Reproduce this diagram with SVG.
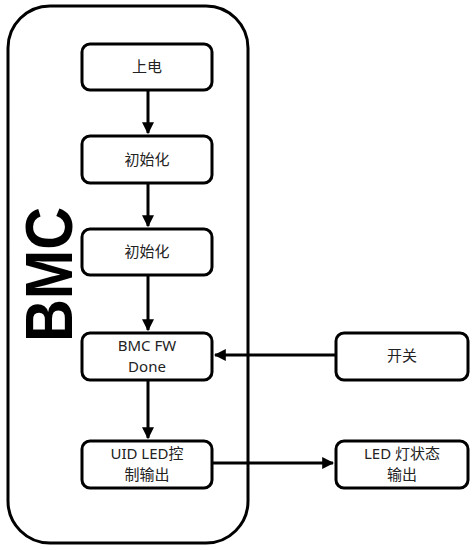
<svg xmlns="http://www.w3.org/2000/svg" width="474" height="550" viewBox="0 0 474 550">
<style>
.box{fill:#fff;stroke:#000;stroke-width:3}
.t{font-family:"Noto Sans","Noto Sans CJK SC",sans-serif;font-size:15px;fill:#222;text-anchor:middle}
.c{stroke:#000;stroke-width:3;fill:none}
</style>
<defs>
<marker id="ah" viewBox="0 0 10 10" refX="9" refY="5" markerWidth="4" markerHeight="4" orient="auto" markerUnits="strokeWidth">
<path d="M0,0 L10,5 L0,10 Z" fill="#000"/>
</marker>
</defs>
<rect width="474" height="550" fill="#fff"/>
<g id="bmc">
<rect x="8" y="6" width="240" height="537" rx="42" class="box"/>
<text transform="translate(72,274.5) rotate(-90)" font-family="Liberation Sans, sans-serif" font-weight="bold" font-size="66" text-anchor="middle" textLength="135" lengthAdjust="spacingAndGlyphs" fill="#000">BMC</text>
</g>
<g id="connectors">
<line x1="148" y1="90" x2="148" y2="133" class="c" marker-end="url(#ah)"/>
<line x1="148" y1="183" x2="148" y2="226" class="c" marker-end="url(#ah)"/>
<line x1="148" y1="275" x2="148" y2="330" class="c" marker-end="url(#ah)"/>
<line x1="148" y1="380" x2="148" y2="438" class="c" marker-end="url(#ah)"/>
<line x1="335" y1="355" x2="215" y2="355" class="c" marker-end="url(#ah)"/>
<line x1="212" y1="463" x2="333" y2="463" class="c" marker-end="url(#ah)"/>
</g>
<g id="n1"><rect x="82" y="44" width="130" height="46" rx="8" class="box"/><text x="147" y="72" class="t">上电</text></g>
<g id="n2"><rect x="82" y="136" width="130" height="47" rx="8" class="box"/><text x="147" y="165" class="t">初始化</text></g>
<g id="n3"><rect x="82" y="229" width="130" height="46" rx="8" class="box"/><text x="147" y="257" class="t">初始化</text></g>
<g id="n4"><rect x="82" y="333" width="130" height="47" rx="8" class="box"/><text x="147" y="351" class="t">BMC FW</text><text x="147" y="372" class="t">Done</text></g>
<g id="n5"><rect x="82" y="441" width="130" height="47" rx="8" class="box"/><text x="147" y="459" class="t">UID LED控</text><text x="147" y="480" class="t">制输出</text></g>
<g id="n6"><rect x="336" y="333" width="132" height="47" rx="8" class="box"/><text x="402" y="361" class="t">开关</text></g>
<g id="n7"><rect x="336" y="441" width="132" height="47" rx="8" class="box"/><text x="402" y="459" class="t">LED 灯状态</text><text x="402" y="480" class="t">输出</text></g>
</svg>
